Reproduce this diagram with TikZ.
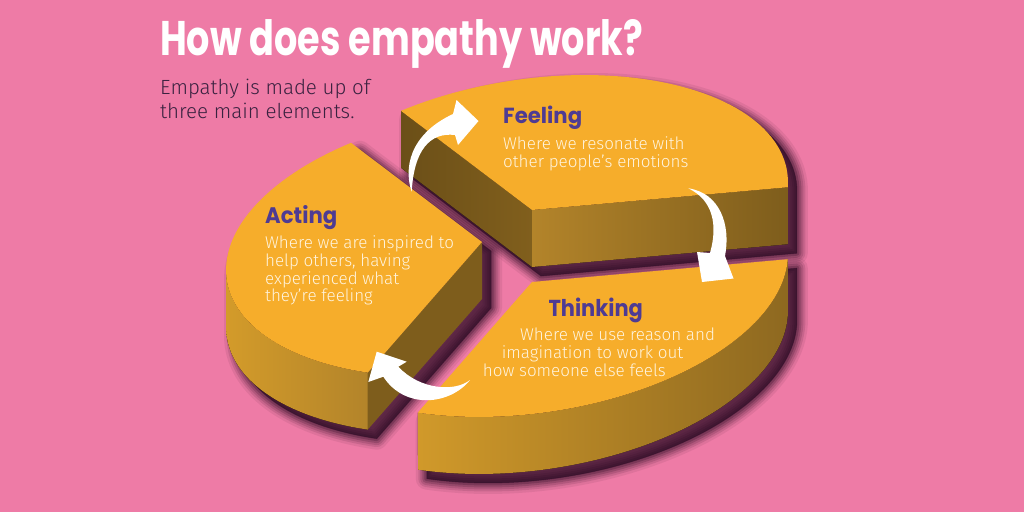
\documentclass[tikz,border=0pt]{standalone}
\usepackage{fontspec}
\usepackage{graphicx}
\setmainfont{Fira Sans}
\newfontfamily\bodyfont{Fira Sans Light}
\newfontfamily\ttlfont{Poppins}
\definecolor{bgpink}{HTML}{EE7BA6}
\definecolor{topor}{HTML}{F6AD2B}
\definecolor{sidedark}{HTML}{7E5D1C}
\definecolor{sidemid}{HTML}{B3842A}
\definecolor{sidelight}{HTML}{D39B2A}
\definecolor{shadowc}{HTML}{2E0C26}
\definecolor{headpurple}{HTML}{4E3B93}
\definecolor{bodycream}{HTML}{FFF4DE}
\definecolor{subdark}{HTML}{3A2240}
\newcommand\elx[1]{(255.23*cos(#1)-19.136*sin(#1))}
\newcommand\ely[1]{(-37.689*cos(#1)-129.594*sin(#1))}
% silhouettes
\newcommand\feelsil{(401,110.8) -- plot[domain=0:1,samples=60,variable=\s] ({532+\elx{116.5-123*\s}},{210+\ely{116.5-123*\s}}) -- (787.8,244.2) -- (532,267) -- (401,167.8) -- cycle}
\newcommand\actsil{(482,242) -- plot[domain=116.5:175.74,samples=40,variable=\t] ({482+\elx{\t}},{242+\ely{\t}}) -- plot[domain=175.74:239.2,samples=40,variable=\t] ({482+\elx{\t}},{299+\ely{\t}}) -- (482,299) -- cycle}
\newcommand\thinksil{(532,282) -- (417.7,412.6) -- plot[domain=239.2:353.5,samples=60,variable=\t] ({532+\elx{\t}},{339+\ely{\t}}) -- (787.8,259.2) -- cycle}
\newcommand\shadowit[1]{%
  \begin{scope}[shift={(9,9)}]
    \foreach \lw/\op in {22/0.08,17/0.12,13/0.15,9/0.2,5/0.26,1/0.35}{%
      \path[fill=shadowc,draw=shadowc,line width=\lw pt,opacity=\op,line join=round] #1;}
  \end{scope}}
\tikzset{
  heading/.style={anchor=base west,inner sep=0pt,text=headpurple},
  bodytext/.style={anchor=base west,inner sep=0pt,text=bodycream,font=\bodyfont\fontsize{17}{20}\selectfont},
  subtext/.style={anchor=base west,inner sep=0pt,text=subdark,font=\bodyfont\fontsize{20.5}{24}\selectfont},
  arrowshape/.style={fill=white,line join=round}
}
\begin{document}
\begin{tikzpicture}[x=1pt,y=-1pt]
\fill[bgpink] (0,0) rectangle (1024,512);
\useasboundingbox (0,0) rectangle (1024,512);

% ---------- Feeling slice ----------
\shadowit{\feelsil}
\fill[left color=sidedark!85!black,right color=sidedark!95!sidemid] (532,210) -- (401,110.8) -- (401,167.8) -- (532,267) -- cycle;
\fill[left color=sidemid,right color=sidedark] (532,210) -- (787.8,187.2) -- (787.8,244.2) -- (532,267) -- cycle;
\fill[topor] (532,210) -- plot[domain=-6.5:116.5,samples=60,variable=\t] ({532+\elx{\t}},{210+\ely{\t}}) -- cycle;

% ---------- Acting slice ----------
\shadowit{\actsil}
\fill[left color=sidelight,right color=sidemid] plot[domain=175.74:239.2,samples=40,variable=\t] ({482+\elx{\t}},{242+\ely{\t}}) -- plot[domain=0:1,samples=40,variable=\s] ({482+\elx{239.2-63.46*\s}},{299+\ely{239.2-63.46*\s}}) -- cycle;
\fill[sidedark] (482,242) -- (367.7,372.6) -- (367.7,429.6) -- (482,299) -- cycle;
\fill[topor] (482,242) -- plot[domain=116.5:239.2,samples=60,variable=\t] ({482+\elx{\t}},{242+\ely{\t}}) -- cycle;

% ---------- Thinking slice ----------
\shadowit{\thinksil}
\fill[left color=sidelight!92!sidemid,right color=sidedark!70!sidemid] plot[domain=239.2:353.5,samples=60,variable=\t] ({532+\elx{\t}},{282+\ely{\t}}) -- plot[domain=0:1,samples=60,variable=\s] ({532+\elx{353.5-114.3*\s}},{339+\ely{353.5-114.3*\s}}) -- cycle;
\fill[topor] (532,282) -- plot[domain=239.2:353.5,samples=60,variable=\t] ({532+\elx{\t}},{282+\ely{\t}}) -- cycle;

% ---------- arrows ----------
\fill[arrowshape] (411.7,191.7) .. controls (404,170) and (408,135) .. (453,114) -- (456.5,100) -- (478.5,121) -- (458,145) -- (455,135) .. controls (430,132) and (414,150) .. (411.7,191.7) -- cycle;
\fill[arrowshape] (688.3,188.3) .. controls (720,193) and (731,225) .. (725,256) -- (733.5,278.5) -- (702,282) -- (697,252) -- (710,253) .. controls (718,225) and (713,200) .. (688.3,188.3) -- cycle;
\fill[arrowshape] (470,380) .. controls (450,405) and (405,410) .. (383.3,376.7) -- (368.3,382) -- (376.7,351.7) -- (406.7,361.7) -- (398.3,366.7) .. controls (420,390) and (455,392) .. (470,380) -- cycle;

% ---------- texts ----------
\node[anchor=base west,inner sep=0pt,text=white] (title) at (160,55) {\resizebox{483pt}{36pt}{\ttlfont\bfseries How does empathy work?}};
\node[subtext] (sub1) at (160,94) {Empathy is made up of};
\node[subtext] (sub2) at (160,118) {three main elements.};

\node[heading] (feelh) at (503,123.3) {\resizebox{79pt}{17.5pt}{\ttlfont\bfseries Feeling}};
\node[bodytext] (feel1) at (503,149) {Where we resonate with};
\node[bodytext] (feel2) at (503,167.3) {other people’s emotions};

\node[heading] (acth) at (265,223.3) {\resizebox{72pt}{18pt}{\ttlfont\bfseries Acting}};
\node[bodytext] (act1) at (265,248.3) {Where we are inspired to};
\node[bodytext] (act2) at (265,266.3) {help others, having};
\node[bodytext] (act3) at (265,284) {experienced what};
\node[bodytext] (act4) at (265,301.7) {they’re feeling};

\node[heading] (thinkh) at (548.3,316.7) {\resizebox{94.4pt}{18.5pt}{\ttlfont\bfseries Thinking}};
\node[bodytext] (think1) at (520,340.7) {Where we use reason and};
\node[bodytext] (think2) at (501.7,358.3) {imagination to work out};
\node[bodytext] (think3) at (482.7,376) {how someone else feels};
\end{tikzpicture}
\end{document}
